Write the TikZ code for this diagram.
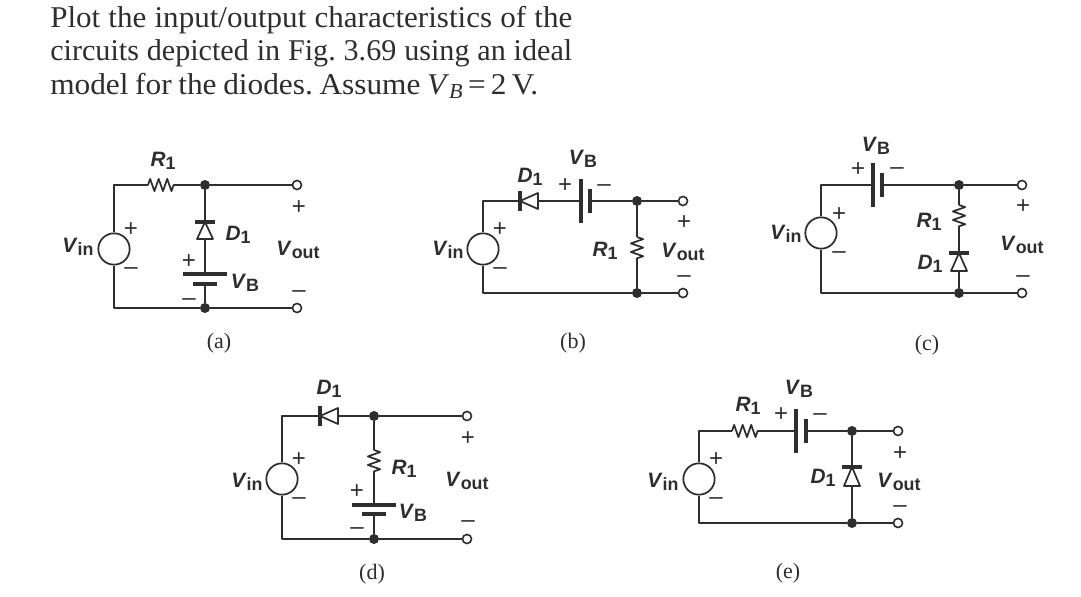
\documentclass[tikz,border=0pt]{standalone}
\usepackage{fontspec}
\setmainfont{Liberation Serif}
\setsansfont{Liberation Sans}
\usetikzlibrary{calc,decorations.pathmorphing}
\definecolor{ink}{HTML}{2E2E2E}
\newcommand{\lab}[2]{{\sffamily\bfseries\fontsize{15.6pt}{17pt}\selectfont\textit{#1}\raisebox{-0.32ex}{\fontsize{13.4pt}{15pt}\selectfont #2}}}
\newcommand{\diodeshape}[2]{%
  \draw[wire,fill=white] ($(#2)!6pt!90:(#1)$) -- ($(#2)!6pt!-90:(#1)$) -- (#1) -- cycle;
  \draw[plate] ($(#1)!7.5pt!90:(#2)$) -- ($(#1)!7.5pt!-90:(#2)$);}
\newcommand{\batteryshape}[2]{%
  \draw[plate] ($(#1)!16.5pt!90:(#2)$) -- ($(#1)!16.5pt!-90:(#2)$);
  \draw[plate] ($(#2)!9pt!90:(#1)$) -- ($(#2)!9pt!-90:(#1)$);}
\tikzset{
  x=0.75pt,y=-0.75pt,
  wire/.style={draw=ink,line width=1.3pt,line join=round},
  plate/.style={draw=ink,line width=3pt},
  res/.style={wire,decorate,decoration={zigzag,segment length=6.4pt,amplitude=4.6pt}},
  src/.style={circle,draw=ink,line width=1.3pt,minimum size=23.5pt,inner sep=0pt,fill=white},
  junction/.style={circle,fill=ink,minimum size=7.5pt,inner sep=0pt},
  term/.style={circle,draw=ink,line width=1.2pt,fill=white,minimum size=6.8pt,inner sep=0pt},
  sign/.style={font=\sffamily\fontsize{18pt}{20pt}\selectfont,text=ink,inner sep=0pt,yshift=-0.7pt},
  msign/.style={font=\sffamily\fontsize{18pt}{20pt}\selectfont,text=ink,inner sep=0pt,yshift=-2.2pt},
  txt/.style={text=ink,inner sep=0pt},
  capt/.style={font=\fontsize{16.5pt}{18pt}\selectfont,text=ink,inner sep=0pt},
  prob/.style={font=\fontsize{22.6pt}{25pt}\selectfont,text=ink,inner sep=0pt,anchor=base west},
}
\begin{document}
\begin{tikzpicture}
\useasboundingbox (0,0) rectangle (1081,596);
\fill[white] (0,0) rectangle (1081,596);
% problem text
\node[prob] (l1) at (50,27) {\scalebox{1.03}[1]{\frenchspacing\hbox to 380.1pt{Plot the input/output characteristics of the}}};
\node[prob] (l2) at (50,60) {\frenchspacing\hbox to 391.5pt{circuits depicted in Fig. 3.69 using an ideal}};
\node[prob] (l3) at (50,94) {\scalebox{1.04}[1]{\frenchspacing\hbox to 351.9pt{model for the diodes. Assume \textit{V}\raisebox{-0.3ex}{\fontsize{16pt}{18pt}\selectfont\textit{B}}\,=\,2\,V.}}};
% ---------- (a)
\node[src] (as) at (114,249) {};
\coordinate (atl) at (114,185); \coordinate (abl) at (114,308);
\coordinate (ar1) at (148,185); \coordinate (ar2) at (175,185);
\node[junction] (aj1) at (205,185) {}; \node[junction] (aj2) at (205,308) {};
\node[term] (at1) at (297,185) {}; \node[term] (at2) at (297,308) {};
\coordinate (ad1) at (205,222); \coordinate (ad2) at (205,239);
\coordinate (ab1) at (205,274); \coordinate (ab2) at (205,284);
\draw[wire] (as) -- (atl) -- (ar1); \draw[res] (ar1) -- (ar2);
\draw[wire] (ar2) -- (aj1) -- (at1);
\draw[wire] (as) -- (abl) -- (aj2) -- (at2);
\draw[wire] (aj1) -- (ad1); \draw[wire] (ad2) -- (ab1); \draw[wire] (ab2) -- (aj2);
\diodeshape{ad1}{ad2} \batteryshape{ab1}{ab2}
\node[txt] (aR) at (163,161) {\lab{R}{1}};
\node[txt] (aD) at (238,235) {\lab{D}{1}};
\node[txt] (aVo) at (298,250) {\lab{V}{out}};
\node[txt] (aVb) at (245,283) {\lab{V}{B}};
\node[txt] (aVi) at (78,247) {\lab{V}{in}};
\node[sign] (ap1) at (299,207) {+}; \node[msign] (am1) at (299,291) {–};
\node[sign] (ap2) at (189,261) {+}; \node[msign] (am2) at (189,299) {–};
\node[sign] (ap3) at (131,229) {+}; \node[msign] (am3) at (131,268) {–};
\node[capt] (acap) at (219,343) {(a)};
% ---------- (b)
\node[src] (bs) at (483,249) {};
\coordinate (btl) at (483,201); \coordinate (bbl) at (483,293);
\coordinate (bd1) at (520,201); \coordinate (bd2) at (538,201);
\coordinate (bb1) at (581,201); \coordinate (bb2) at (590,201);
\node[junction] (bj1) at (637,201) {}; \node[junction] (bj2) at (637,293) {};
\node[term] (bt1) at (683,201) {}; \node[term] (bt2) at (683,293) {};
\coordinate (br1) at (637,237); \coordinate (br2) at (637,259);
\draw[wire] (bs) -- (btl) -- (bd1); \draw[wire] (bd2) -- (bb1);
\draw[wire] (bb2) -- (bj1) -- (bt1);
\draw[wire] (bs) -- (bbl) -- (bj2) -- (bt2);
\draw[wire] (bj1) -- (br1); \draw[res] (br1) -- (br2); \draw[wire] (br2) -- (bj2);
\diodeshape{bd1}{bd2} \batteryshape{bb1}{bb2}
\node[txt] (bR) at (605,251) {\lab{R}{1}};
\node[txt] (bD) at (530,177) {\lab{D}{1}};
\node[txt] (bVo) at (683,252) {\lab{V}{out}};
\node[txt] (bVb) at (583,159) {\lab{V}{B}};
\node[txt] (bVi) at (448,250) {\lab{V}{in}};
\node[sign] (bp1) at (684,222) {+}; \node[msign] (bm1) at (684,276) {–};
\node[sign] (bp2) at (565,185) {+}; \node[msign] (bm2) at (604,185) {–};
\node[sign] (bp3) at (500,229) {+}; \node[msign] (bm3) at (500,268) {–};
\node[capt] (bcap) at (573,343) {(b)};
% ---------- (c)
\node[src] (cs) at (821,233) {};
\coordinate (ctl) at (821,185); \coordinate (cbl) at (821,293);
\coordinate (cb1) at (873,185); \coordinate (cb2) at (882,185);
\node[junction] (cj1) at (959,185) {}; \node[junction] (cj2) at (959,293) {};
\node[term] (ct1) at (1022,185) {}; \node[term] (ct2) at (1022,293) {};
\coordinate (cr1) at (959,205); \coordinate (cr2) at (959,228);
\coordinate (cd1) at (959,253); \coordinate (cd2) at (959,271);
\draw[wire] (cs) -- (ctl) -- (cb1); \draw[wire] (cb2) -- (cj1) -- (ct1);
\draw[wire] (cs) -- (cbl) -- (cj2) -- (ct2);
\draw[wire] (cj1) -- (cr1); \draw[res] (cr1) -- (cr2); \draw[wire] (cr2) -- (cd1);
\draw[wire] (cd2) -- (cj2);
\diodeshape{cd1}{cd2} \batteryshape{cb1}{cb2}
\node[txt] (cR) at (929,222) {\lab{R}{1}};
\node[txt] (cD) at (930,264) {\lab{D}{1}};
\node[txt] (cVo) at (1022,245) {\lab{V}{out}};
\node[txt] (cVb) at (876,146) {\lab{V}{B}};
\node[txt] (cVi) at (786,234) {\lab{V}{in}};
\node[sign] (cp1) at (1023,206) {+}; \node[msign] (cm1) at (1023,276) {–};
\node[sign] (cp2) at (858,169) {+}; \node[msign] (cm2) at (897,168) {–};
\node[sign] (cp3) at (839,214) {+}; \node[msign] (cm3) at (839,252) {–};
\node[capt] (ccap) at (927,345) {(c)};
% ---------- (d)
\node[src] (ds) at (282,479) {};
\coordinate (dtl) at (282,416); \coordinate (dbl) at (282,539);
\coordinate (dd1) at (320,416); \coordinate (dd2) at (338,416);
\node[junction] (dj1) at (374,416) {}; \node[junction] (dj2) at (374,539) {};
\node[term] (dt1) at (467,416) {}; \node[term] (dt2) at (467,539) {};
\coordinate (dr1) at (374,450); \coordinate (dr2) at (374,475);
\coordinate (db1) at (374,505); \coordinate (db2) at (374,514);
\draw[wire] (ds) -- (dtl) -- (dd1); \draw[wire] (dd2) -- (dj1) -- (dt1);
\draw[wire] (ds) -- (dbl) -- (dj2) -- (dt2);
\draw[wire] (dj1) -- (dr1); \draw[res] (dr1) -- (dr2); \draw[wire] (dr2) -- (db1);
\draw[wire] (db2) -- (dj2);
\diodeshape{dd1}{dd2} \batteryshape{db1}{db2}
\node[txt] (dR) at (404,469) {\lab{R}{1}};
\node[txt] (dD) at (329,389) {\lab{D}{1}};
\node[txt] (dVo) at (467,481) {\lab{V}{out}};
\node[txt] (dVb) at (413,513) {\lab{V}{B}};
\node[txt] (dVi) at (247,482) {\lab{V}{in}};
\node[sign] (dp1) at (468,438) {+}; \node[msign] (dm1) at (468,521) {–};
\node[sign] (dp2) at (357,491) {+}; \node[msign] (dm2) at (357,528) {–};
\node[sign] (dp3) at (299,459) {+}; \node[msign] (dm3) at (299,498) {–};
\node[capt] (dcap) at (372,574) {(d)};
% ---------- (e)
\node[src] (es) at (699,479) {};
\coordinate (etl) at (699,431); \coordinate (ebl) at (699,523);
\coordinate (er1) at (732,431); \coordinate (er2) at (759,431);
\coordinate (eb1) at (796,431); \coordinate (eb2) at (806,431);
\node[junction] (ej1) at (852,431) {}; \node[junction] (ej2) at (852,523) {};
\node[term] (et1) at (898,431) {}; \node[term] (et2) at (898,523) {};
\coordinate (ed1) at (852,467); \coordinate (ed2) at (852,486);
\draw[wire] (es) -- (etl) -- (er1); \draw[res] (er1) -- (er2); \draw[wire] (er2) -- (eb1);
\draw[wire] (eb2) -- (ej1) -- (et1);
\draw[wire] (es) -- (ebl) -- (ej2) -- (et2);
\draw[wire] (ej1) -- (ed1); \draw[wire] (ed2) -- (ej2);
\diodeshape{ed1}{ed2} \batteryshape{eb1}{eb2}
\node[txt] (eR) at (748,406) {\lab{R}{1}};
\node[txt] (eD) at (823,478) {\lab{D}{1}};
\node[txt] (eVo) at (899,482) {\lab{V}{out}};
\node[txt] (eVb) at (799,389) {\lab{V}{B}};
\node[txt] (eVi) at (663,482) {\lab{V}{in}};
\node[sign] (ep1) at (900,453) {+}; \node[msign] (em1) at (900,506) {–};
\node[sign] (ep2) at (781,414) {+}; \node[msign] (em2) at (820,414) {–};
\node[sign] (ep3) at (716,459) {+}; \node[msign] (em3) at (716,498) {–};
\node[capt] (ecap) at (788,573) {(e)};
\end{tikzpicture}
\end{document}
